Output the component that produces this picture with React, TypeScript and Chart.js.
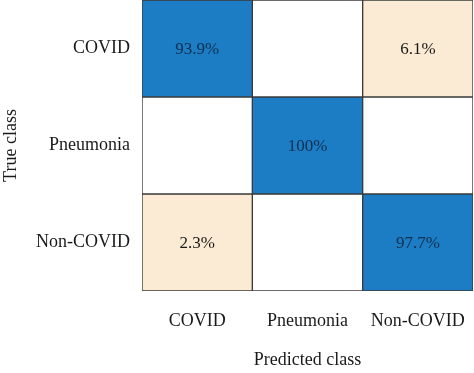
import React, { useEffect, useRef } from "react";
import { Chart, registerables } from "chart.js";

Chart.register(...registerables);

const predictedClasses = ["COVID", "Pneumonia", "Non-COVID"];
const trueClasses = ["COVID", "Pneumonia", "Non-COVID"];
// percentage per true class (row) and predicted class (column); null = empty cell
const rowCovid: (number | null)[] = [93.9, null, 6.1];
const rowPneumonia: (number | null)[] = [null, 100, null];
const rowNonCovid: (number | null)[] = [2.3, null, 97.7];
const rows = [rowCovid, rowPneumonia, rowNonCovid];

const HIGH = "#1c7cc4";
const LOW = "#fcebd4";
const EMPTY = "#ffffff";
const FONT = "'Liberation Serif', 'Times New Roman', serif";

function cellColor(v: number | null) {
  if (v === null) return EMPTY;
  return v >= 50 ? HIGH : LOW;
}

function fmt(v: number) {
  return Number.isInteger(v) ? `${v}%` : `${v.toFixed(1)}%`;
}

const cellText = {
  id: "cellText",
  afterDatasetsDraw(chart: any) {
    const ctx = chart.ctx;
    ctx.save();
    ctx.font = `17px ${FONT}`;
    ctx.textAlign = "center";
    ctx.textBaseline = "middle";
    chart.data.datasets.forEach((ds: any, di: number) => {
      const meta = chart.getDatasetMeta(di);
      meta.data.forEach((bar: any, i: number) => {
        const v = rows[di][i];
        if (v === null) return;
        const { x, y, base } = bar.getProps(["x", "y", "base"], true);
        ctx.fillStyle = v >= 50 ? "#10304f" : "#1a1a1a";
        ctx.fillText(fmt(v), x, (y + base) / 2 + 1);
      });
    });
    ctx.restore();
  },
};

export default function App() {
  const ref = useRef<HTMLCanvasElement>(null);
  useEffect(() => {
    document.body.style.margin = "0";
    const chart = new Chart(ref.current!, {
      type: "bar",
      data: {
        labels: predictedClasses,
        datasets: trueClasses.map((name, r) => ({
          label: name,
          data: predictedClasses.map(() => 1),
          backgroundColor: rows[r].map(cellColor),
          borderColor: "#3a3a3a",
          borderWidth: 1,
          borderSkipped: false,
          barPercentage: 1,
          categoryPercentage: 1,
        })),
      },
      options: {
        animation: false,
        responsive: false,
        layout: { padding: { top: 0, right: 1, left: 0, bottom: 0 } },
        plugins: { legend: { display: false }, tooltip: { enabled: false } },
        scales: {
          x: {
            stacked: true,
            grid: { display: false, drawTicks: false },
            border: { display: false },
            ticks: { color: "#1a1a1a", font: { family: FONT, size: 18 }, padding: 19, maxRotation: 0 },
            title: { display: true, text: "Predicted class", color: "#1a1a1a", font: { family: FONT, size: 18 }, padding: { top: 0, bottom: 2 } },
            afterFit: (s: any) => {
              s.height = 82;
              s.paddingLeft = 0;
              s.paddingRight = 0;
            },
          },
          y: {
            stacked: true,
            reverse: true,
            min: 0,
            max: 3,
            grid: { display: false, drawTicks: false },
            border: { display: false },
            afterBuildTicks: (s: any) => { s.ticks = trueClasses.map((_, i) => ({ value: i + 0.5 })); },
            ticks: {
              color: "#1a1a1a",
              font: { family: FONT, size: 18 },
              padding: 12,
              callback: (v: any) => trueClasses[Math.floor(Number(v))],
            },
            title: { display: true, text: "True class", color: "#1a1a1a", font: { family: FONT, size: 18 }, padding: { top: 0, bottom: 0 } },
            afterFit: (s: any) => {
              s.width = 142;
              s.paddingTop = 0;
              s.paddingBottom = 0;
            },
          },
        },
      },
      plugins: [cellText],
    });
    return () => chart.destroy();
  }, []);
  return <canvas ref={ref} width={474} height={373} style={{ display: "block" }} />;
}
